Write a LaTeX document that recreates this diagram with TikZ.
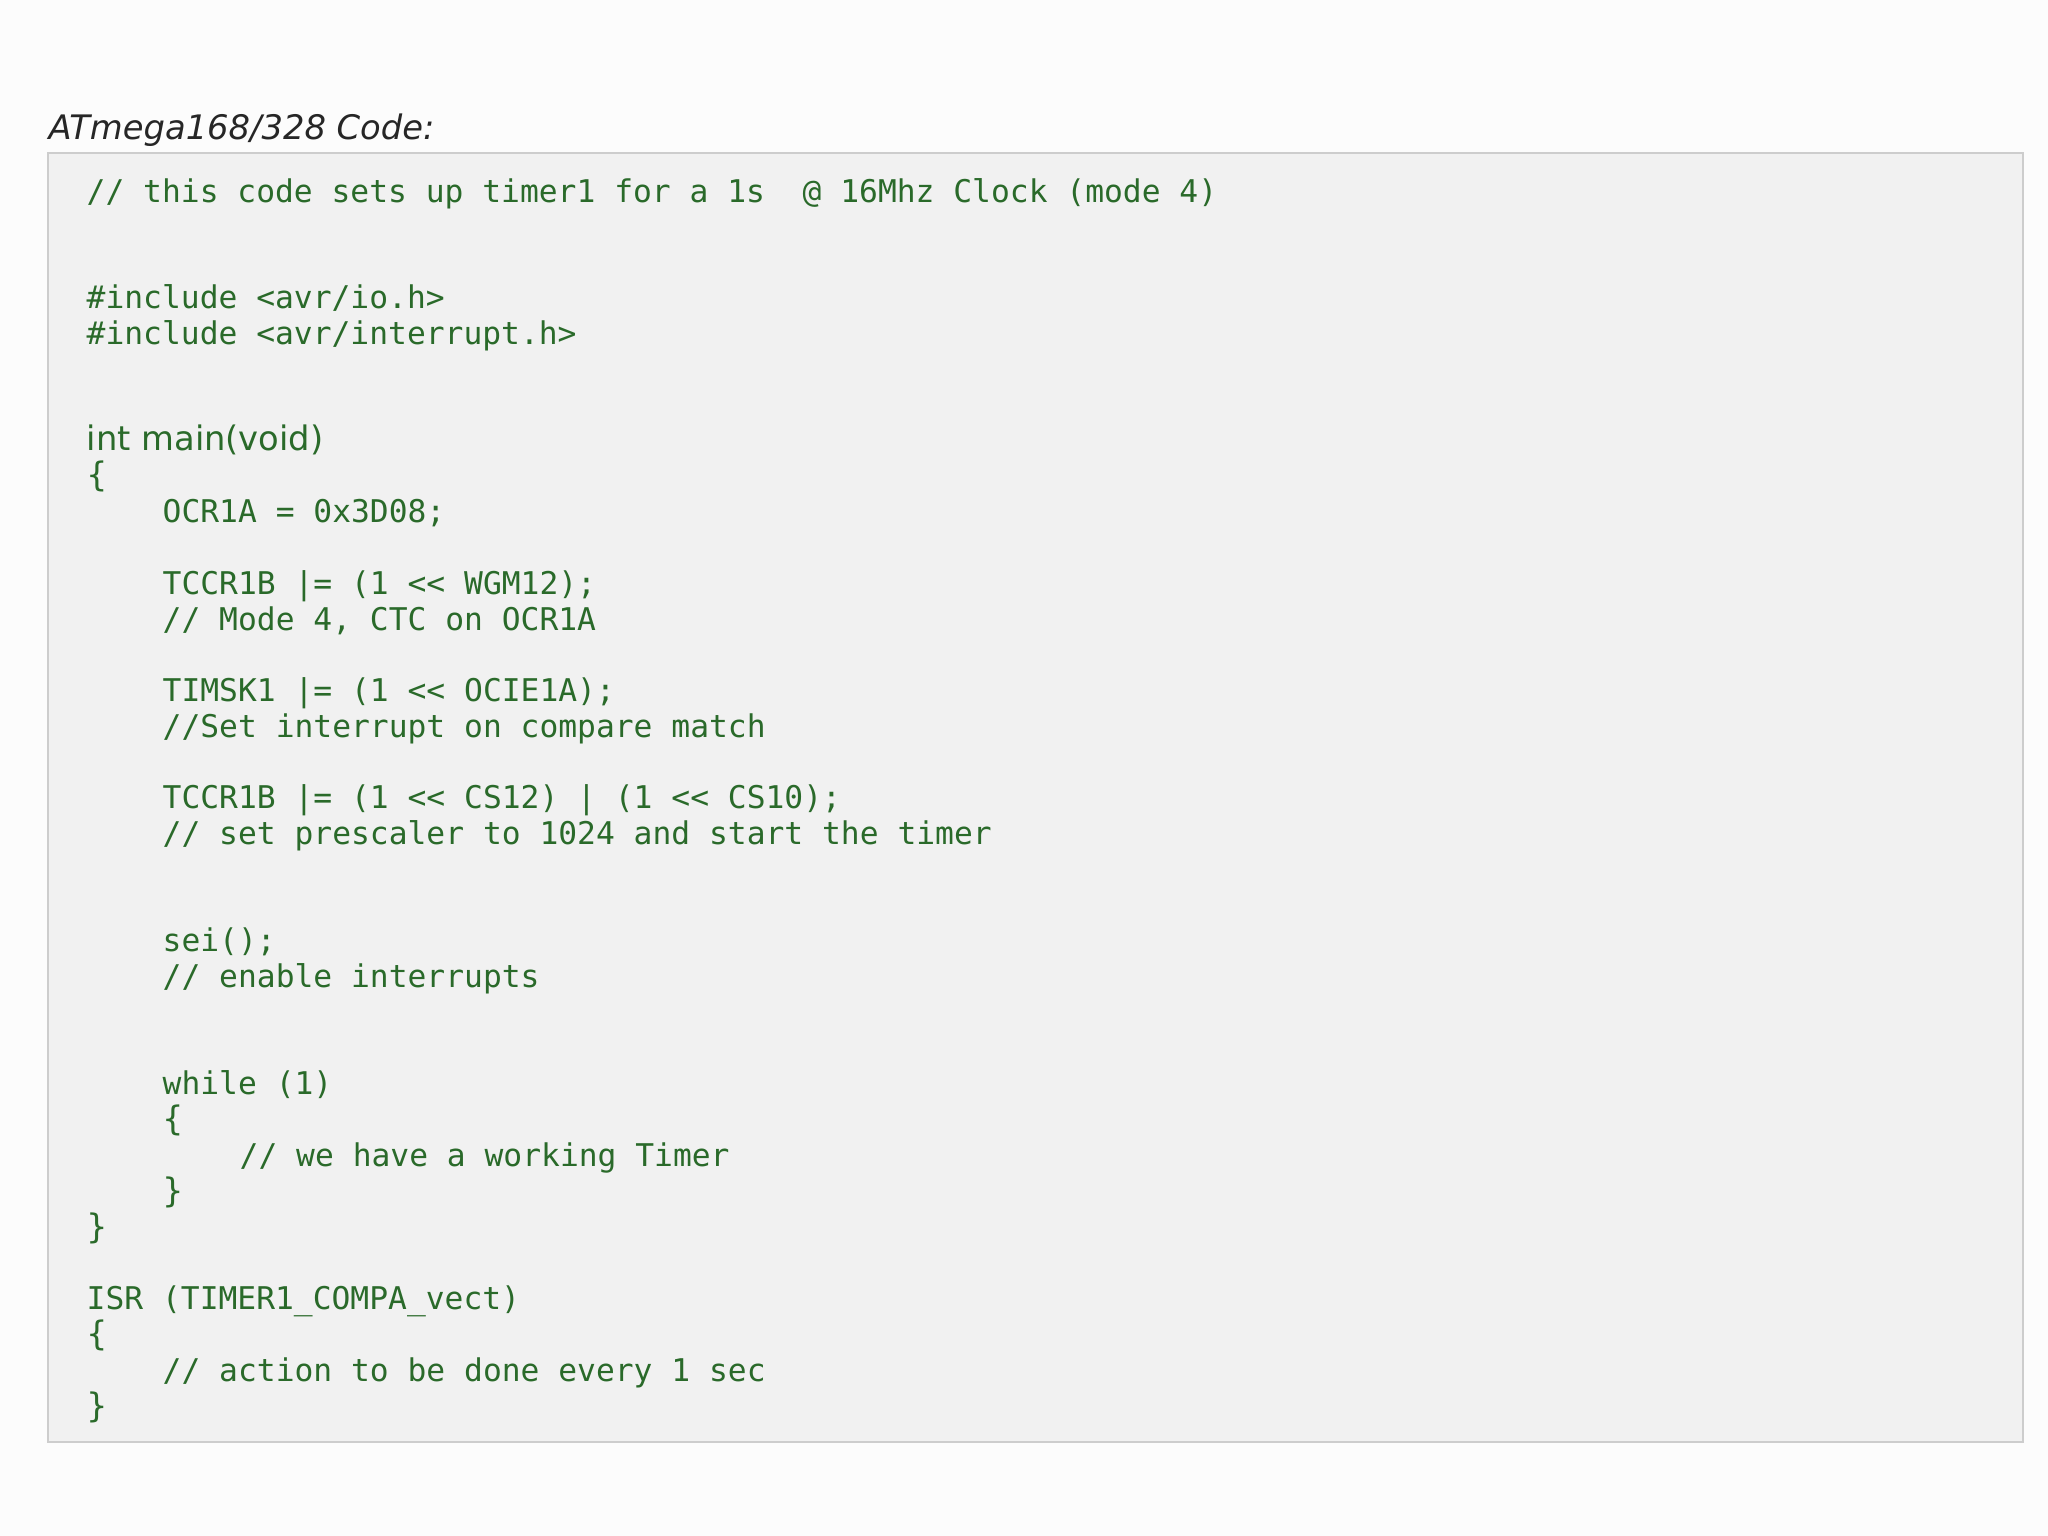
\documentclass[tikz,border=0pt]{standalone}
\usepackage{fontspec}
\setmainfont{DejaVu Sans}
\newfontfamily\codefont{DejaVu Sans Mono}
\definecolor{codegreen}{HTML}{2A6A2A}
\definecolor{boxbg}{HTML}{F1F1F1}
\definecolor{boxline}{HTML}{CDCDCD}
\begin{document}
\begin{tikzpicture}[x=0.01cm,y=-0.01cm,
  code/.style={anchor=base west,inner sep=0,text=codegreen,font=\codefont\fontsize{8.9}{10}\selectfont},
  prop/.style={anchor=base west,inner sep=0,text=codegreen,font=\fontsize{9.6}{11}\selectfont}]
\fill[white!98!black!50!white] (0,0) rectangle (2048,1536);
\useasboundingbox (0,0) rectangle (2048,1536);
\node[anchor=base west,inner sep=0,font=\itshape\fontsize{9.6}{11}\selectfont,text=black!85] (title) at (48,139) {ATmega168/328 Code:};
\draw[boxline,fill=boxbg,line width=0.6pt] (48,153) rectangle (2023,1442);
\def\L#1#2#3{\node[code] at (#1,#2) {#3};}
\node[code] (l1) at (86,202) {// this code sets up timer1 for a 1s\ \ @ 16Mhz Clock (mode 4)};
\node[code] (l2) at (86,308) {\#include <avr/io.h>};
\node[code] (l3) at (86,344) {\#include <avr/interrupt.h>};
\node[prop] (l4) at (86,450) {int main(void)};
\node[prop] (l5) at (86,486) {\{};
\node[code] (l6) at (162,522) {OCR1A = 0x3D08;};
\node[code] (l7) at (162,594) {TCCR1B |= (1 << WGM12);};
\node[code] (l8) at (162,630) {// Mode 4, CTC on OCR1A};
\node[code] (l9) at (162,701) {TIMSK1 |= (1 << OCIE1A);};
\node[code] (l10) at (162,737) {//Set interrupt on compare match};
\node[code] (l11) at (162,808) {TCCR1B |= (1 << CS12) | (1 << CS10);};
\node[code] (l12) at (162,844) {// set prescaler to 1024 and start the timer};
\node[code] (l13) at (162,951) {sei();};
\node[code] (l14) at (162,987) {// enable interrupts};
\node[code] (l15) at (162,1094) {while (1)};
\node[prop] (l16) at (162,1130) {\{};
\node[code] (l17) at (239,1166) {// we have a working Timer};
\node[prop] (l18) at (162,1202) {\}};
\node[prop] (l19) at (86,1238) {\}};
\node[code] (l20) at (86,1309) {ISR (TIMER1\_COMPA\_vect)};
\node[prop] (l21) at (86,1345) {\{};
\node[code] (l22) at (162,1381) {// action to be done every 1 sec};
\node[prop] (l23) at (86,1417) {\}};
\end{tikzpicture}
\end{document}
